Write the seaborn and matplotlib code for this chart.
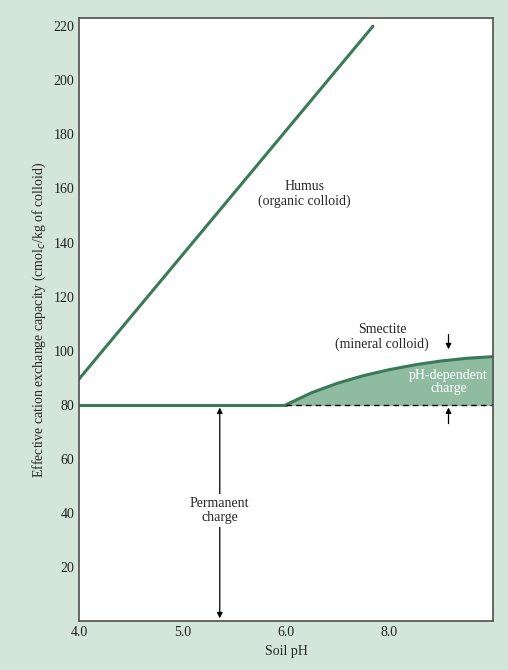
import matplotlib
matplotlib.use("Agg")
import matplotlib.pyplot as plt
import seaborn as sns
import numpy as np
import pandas as pd

# x positions on the drawn (non-linear) pH axis; tick labels below
tick_pos = [0, 1, 2, 3]
tick_labels = ["4.0", "5.0", "6.0", "8.0"]
y_ticks = [20, 40, 60, 80, 100, 120, 140, 160, 180, 200, 220]

humus_x = [0.0, 2.84]
humus_y = [89.5, 220]

perm_x = [0.0, 2.0]
perm_y = [80, 80]

smec_x = [2.0, 2.25, 2.5, 2.75, 3.0, 3.25, 3.5, 3.75, 4.0]
smec_y = [80, 84.5, 88, 90.8, 93, 94.8, 96.2, 97.2, 97.8]

green = "#3a7a58"
sns.set_theme(style="white")
plt.rcParams['font.family'] = ['Liberation Serif', 'DejaVu Serif']

fig = plt.figure(figsize=(5.08, 6.70), dpi=100, facecolor="#d3e6d9")
ax = fig.add_axes([0.1555, 0.073, 0.815, 0.9])
ax.set_facecolor("white")

sns.lineplot(data=pd.DataFrame({"x": humus_x, "y": humus_y}), x="x", y="y", ax=ax, color=green, lw=2.2)
sns.lineplot(data=pd.DataFrame({"x": perm_x, "y": perm_y}), x="x", y="y", ax=ax, color=green, lw=2.2)
sns.lineplot(data=pd.DataFrame({"x": smec_x, "y": smec_y}), x="x", y="y", ax=ax, color=green, lw=2.2)
ax.fill_between(smec_x, 80, smec_y, color="#8fbba0")
ax.plot([2.0, 4.0], [80, 80], color="black", lw=1, ls=(0, (4, 3)))

ax.set_xlim(0, 4.0)
ax.set_ylim(0, 223)
ax.set_xticks(tick_pos)
ax.set_xticklabels(tick_labels)
ax.set_yticks(y_ticks)
ax.tick_params(axis="both", labelsize=10, direction="in", length=4, colors="#222222")
ax.set_xlabel("Soil pH", fontsize=10)
ax.set_ylabel("Effective cation exchange capacity (cmol$_c$/kg of colloid)", fontsize=10)
for s in ax.spines.values():
    s.set_color("#555555")

ax.text(2.18, 158, "Humus\n(organic colloid)", ha="center", va="center", fontsize=10, linespacing=1.1)
ax.text(2.93, 105, "Smectite\n(mineral colloid)", ha="center", va="center", fontsize=10, linespacing=1.1)
ax.text(3.57, 88.5, "pH-dependent\ncharge", ha="center", va="center", fontsize=10, color="white", linespacing=1.0)
ax.text(1.36, 41, "Permanent\ncharge", ha="center", va="center", fontsize=10, linespacing=1.1,
        bbox=dict(facecolor="white", edgecolor="none", pad=2))
ax.annotate("", xy=(1.36, 80), xytext=(1.36, 0),
            arrowprops=dict(arrowstyle="<|-|>", color="black", lw=0.9, mutation_scale=8), zorder=1)
ax.annotate("", xy=(3.57, 99.5), xytext=(3.57, 107),
            arrowprops=dict(arrowstyle="-|>", color="black", lw=0.9, mutation_scale=8))
ax.annotate("", xy=(3.57, 80), xytext=(3.57, 72),
            arrowprops=dict(arrowstyle="-|>", color="black", lw=0.9, mutation_scale=8))

fig.savefig("out.png", dpi=100, facecolor=fig.get_facecolor())
